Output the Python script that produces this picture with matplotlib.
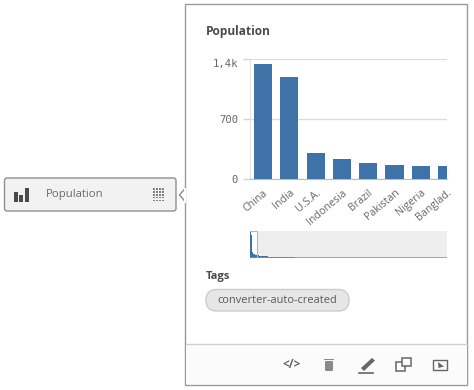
#!/usr/bin/python3

import matplotlib
matplotlib.use('Agg')
import matplotlib.pyplot as plt
from matplotlib.patches import Rectangle, FancyBboxPatch, Polygon

plt.rcParams['font.family'] = ['Open Sans', 'DejaVu Sans']

countries = ['China', 'India', 'U.S.A.', 'Indonesia', 'Brazil', 'Pakistan', 'Nigeria', 'Banglad.']
population = [1338, 1186, 307, 233, 187, 167, 155, 148]
y_ticks = [0, 700, 1400]
y_labels = ['0', '700', '1,4k']

mini_rank = [0, 1, 2, 3, 4, 5, 6, 7, 10, 14, 20, 30, 50, 80, 120, 170, 219]
mini_pop = [1338, 1186, 307, 233, 187, 167, 155, 148, 110, 85, 65, 42, 22, 10, 4, 1, 0]

tag_text = 'converter-auto-created'

W, H = 474, 390
bar_color = '#3f72a8'
text_color = '#595959'
icon_color = '#666666'


def px_axes(x0, y0, x1, y1, **kw):
    # axes placed by pixel box, y counted from the top of the image
    return fig.add_axes([x0/W, 1-y1/H, (x1-x0)/W, (y1-y0)/H], **kw)


fig = plt.figure(figsize=(W/100, H/100), dpi=100, facecolor='white')

# page layer in pixel coordinates
page = fig.add_axes([0, 0, 1, 1], zorder=0)
page.set_xlim(0, W)
page.set_ylim(H, 0)
page.axis('off')

# details card
page.add_patch(Rectangle((185.5, 3.5), 282, 381, fc='white', ec='#9a9a9a', lw=1))
page.add_patch(Rectangle((186, 344), 281, 40, fc='#fbfbfb', ec='none'))
page.plot([186, 467], [344, 344], color='#cfcfcf', lw=1)
page.add_patch(Polygon([[185.5, 188], [179.5, 195], [185.5, 202]], closed=False, fc='white', ec='#8a8a8a', lw=1, zorder=3))
page.plot([185.5, 185.5], [188.5, 201.5], color='white', lw=1.4, zorder=4)

page.text(205.5, 31, 'Population', fontsize=8.6, fontweight='bold', color='#4a4a4a', va='center')
page.text(205.5, 276.5, 'Tags', fontsize=8, fontweight='bold', color='#4a4a4a', va='center')

# tag pill
page.add_patch(FancyBboxPatch((206, 289.5), 143, 21.5, boxstyle='round,pad=0,rounding_size=10.5', mutation_scale=1,
                              fc='#e6e6e6', ec='#cccccc', lw=1))
page.text(277.5, 300.5, tag_text, fontsize=7.9, color=text_color, ha='center', va='center')

# left list item
page.add_patch(FancyBboxPatch((4.5, 178), 171.5, 33, boxstyle='round,pad=0,rounding_size=2.5', mutation_scale=1,
                              fc='#f2f2f2', ec='#8f8f8f', lw=1))
page.add_patch(Rectangle((14.5, 192), 3.5, 10, fc='#4a4a4a', ec='none'))
page.add_patch(Rectangle((19.5, 195), 3.5, 7, fc='#4a4a4a', ec='none'))
page.add_patch(Rectangle((25, 188), 4, 14, fc='#4a4a4a', ec='none'))
page.text(46, 194.5, 'Population', fontsize=8.2, color='#6a6a6a', va='center')
for i in range(4):
    for j in range(5):
        page.add_patch(Rectangle((153.5+i*2.9, 188+j*2.9), 1.7, 1.7, fc='#808080', ec='none'))

# footer icons
page.text(291.5, 365, '</>', fontsize=8.5, fontweight='bold', color=icon_color, ha='center', va='center')
page.add_patch(FancyBboxPatch((325, 361), 8, 10, boxstyle='round,pad=0,rounding_size=1', mutation_scale=1, fc='#8a8a8a', ec='none'))
page.add_patch(Rectangle((324, 358.5), 10, 1.6, fc='#8a8a8a', ec='none'))
page.add_patch(Polygon([[361, 368], [372, 358], [375, 360.5], [364, 371]], fc=icon_color, ec='none'))
page.plot([359, 373], [372.5, 372.5], color=icon_color, lw=1.2)
page.add_patch(Rectangle((396.5, 361.5), 9, 9, fc='white', ec=icon_color, lw=1.1, zorder=3))
page.add_patch(Rectangle((402.5, 358), 9, 8, fc='white', ec=icon_color, lw=1.1, zorder=4))
page.add_patch(Rectangle((433.5, 360), 14, 10, fc='#fbfbfb', ec=icon_color, lw=1))
page.add_patch(Polygon([[438, 362], [444, 366.5], [438.5, 368]], fc=icon_color, ec='none'))

# bar chart
ax = px_axes(250, 59, 447, 179, zorder=2)
ax.patch.set_alpha(0)
ax.bar(range(len(countries)), population, width=0.69, color=bar_color, zorder=3)
ax.set_xlim(-0.5, 7.0)
ax.set_ylim(0, 1400)
ax.set_yticks(y_ticks)
ax.set_yticklabels(y_labels, family='DejaVu Sans Mono', fontsize=7.6, color='#666666')
ax.get_yticklabels()[2].set_va('top')
ax.set_xticks(range(len(countries)))
ax.set_xticklabels(countries, rotation=40, ha='right', rotation_mode='anchor', fontsize=7.7, color='#666666')
ax.tick_params(axis='x', length=0, pad=6)
ax.tick_params(axis='y', length=5, width=1, color='#d4d4d4', pad=3.6)
ax.grid(axis='y', color='#dcdcdc', lw=1, zorder=1)
for s in ['top', 'right']:
    ax.spines[s].set_visible(False)
ax.spines['left'].set_color('#e2e2e2')
ax.spines['bottom'].set_color('#bdbdbd')

# mini scroll chart
mini = px_axes(250, 231, 447, 258, zorder=2)
mini.set_facecolor('#eeeeee')
mini.axvspan(-0.5, 7.0, color='white', zorder=0)
mini.fill_between(mini_rank, mini_pop, step='post', color=bar_color, lw=0, zorder=2)
mini.plot([-0.5, 219], [0, 0], color='#6f94bd', lw=1.8, zorder=3)
mini.plot([-0.5, 7.0, 7.0], [1400, 1400, 0], color='#b5b5b5', lw=0.8, zorder=4)
mini.set_xlim(-0.5, 219)
mini.set_ylim(0, 1400)
mini.set_xticks([])
mini.set_yticks([])
for s in mini.spines.values():
    s.set_visible(False)

fig.savefig('out.png', dpi=100)
